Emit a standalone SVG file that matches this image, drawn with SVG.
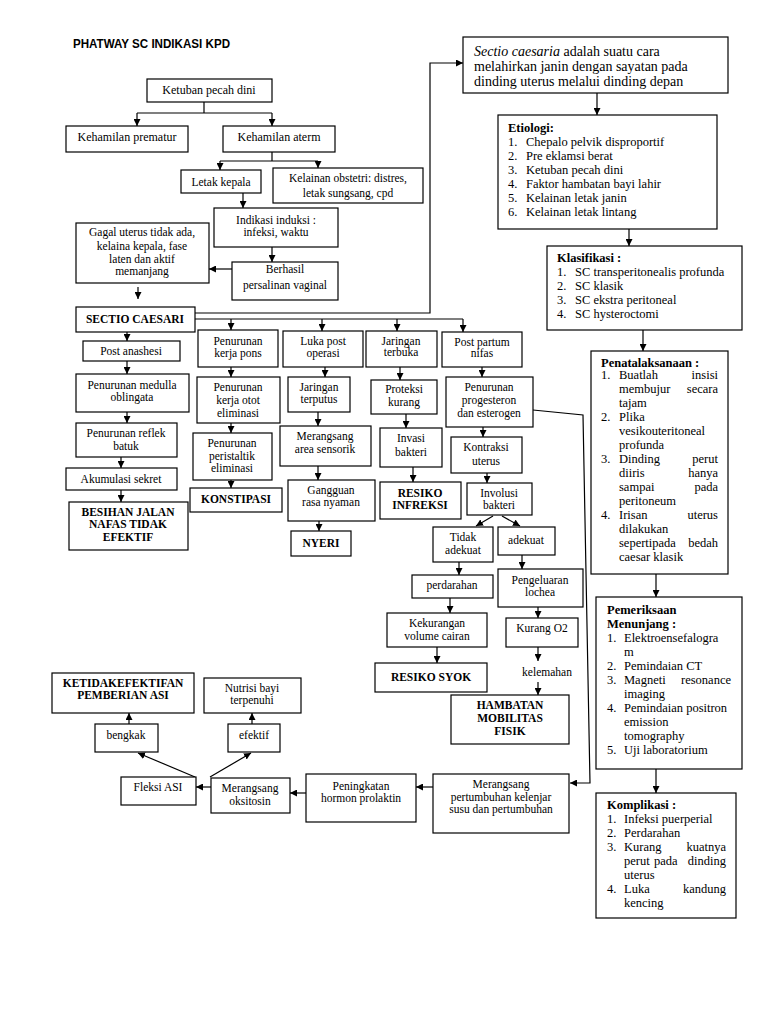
<svg xmlns="http://www.w3.org/2000/svg" width="768" height="1024" viewBox="0 0 768 1024">
<style>
rect{fill:#fff;stroke:#000;stroke-width:1.2}
text{font-family:"Liberation Serif","Times New Roman",serif;fill:#000}
.t{font-size:11.5px;text-anchor:middle}
.m{font-size:12px;text-anchor:middle}
.b{font-size:11.5px;text-anchor:middle;font-weight:bold}
.l{font-size:12.5px}
.e{font-size:12.5px;text-anchor:end}
.h{font-size:12.5px;font-weight:bold}
.c path{fill:none;stroke:#000;stroke-width:1.2}
</style>
<defs>
<marker id="a" viewBox="0 0 8 8" refX="8" refY="4" markerWidth="7" markerHeight="7" orient="auto" markerUnits="userSpaceOnUse"><path d="M0,0 L8,4 L0,8 z" fill="#000"/></marker>
</defs>
<rect x="0" y="0" width="768" height="1024" style="fill:#fff;stroke:none"/>
<text x="73" y="48" style="font-family:'Liberation Sans',Arial,sans-serif;font-weight:bold;font-size:12px" textLength="157" lengthAdjust="spacingAndGlyphs">PHATWAY SC INDIKASI KPD</text>

<g class="c">
<path d="M204,102 V113 M137,113 H272"/>
<path d="M137,113 V126" marker-end="url(#a)"/>
<path d="M272,113 V126" marker-end="url(#a)"/>
<path d="M272,152 V161 M220,161 H318"/>
<path d="M220,161 V170" marker-end="url(#a)"/>
<path d="M318,161 V168" marker-end="url(#a)"/>
<path d="M243,193 V208" marker-end="url(#a)"/>
<path d="M272,247 V262" marker-end="url(#a)"/>
<path d="M232,269 H209" marker-end="url(#a)"/>
<path d="M138,287 V299" marker-end="url(#a)"/>
<path d="M195,313 H430 V63 H463" marker-end="url(#a)"/>
<path d="M195,319 H463"/>
<path d="M231,319 V330" marker-end="url(#a)"/>
<path d="M322,319 V331" marker-end="url(#a)"/>
<path d="M397,319 V331" marker-end="url(#a)"/>
<path d="M463,319 V332" marker-end="url(#a)"/>
<path d="M597,93 V115" marker-end="url(#a)"/>
<path d="M629,229 V246" marker-end="url(#a)"/>
<path d="M643,330 V351" marker-end="url(#a)"/>
<path d="M656,574 V597" marker-end="url(#a)"/>
<path d="M656,769 V793" marker-end="url(#a)"/>
<path d="M127,332 V341" marker-end="url(#a)"/>
<path d="M127,361 V374" marker-end="url(#a)"/>
<path d="M127,412 V423" marker-end="url(#a)"/>
<path d="M121,457 V468" marker-end="url(#a)"/>
<path d="M121,490 V502" marker-end="url(#a)"/>
<path d="M231,367 V377" marker-end="url(#a)"/>
<path d="M231,423 V433" marker-end="url(#a)"/>
<path d="M231,480 V488" marker-end="url(#a)"/>
<path d="M325,367 V377" marker-end="url(#a)"/>
<path d="M318,412 V426" marker-end="url(#a)"/>
<path d="M318,466 V480" marker-end="url(#a)"/>
<path d="M319,521 V531" marker-end="url(#a)"/>
<path d="M400,367 V380" marker-end="url(#a)"/>
<path d="M406,414 V428" marker-end="url(#a)"/>
<path d="M413,467 V482" marker-end="url(#a)"/>
<path d="M482,367 V377" marker-end="url(#a)"/>
<path d="M483,427 V437" marker-end="url(#a)"/>
<path d="M487,473 V483" marker-end="url(#a)"/>
<path d="M493,516 L476,526" marker-end="url(#a)"/>
<path d="M502,516 L520,526" marker-end="url(#a)"/>
<path d="M459,562 V575" marker-end="url(#a)"/>
<path d="M450,598 V613" marker-end="url(#a)"/>
<path d="M437,647 V663" marker-end="url(#a)"/>
<path d="M522,555 V569" marker-end="url(#a)"/>
<path d="M538,607 V618" marker-end="url(#a)"/>
<path d="M538,647 V661" marker-end="url(#a)"/>
<path d="M538,682 V695" marker-end="url(#a)"/>
<path d="M533,410 L583,415 L590,783 H570" marker-end="url(#a)"/>
<path d="M433,787 H416" marker-end="url(#a)"/>
<path d="M306,793 H290" marker-end="url(#a)"/>
<path d="M211,787 H196" marker-end="url(#a)"/>
<path d="M195,777 L138,753" marker-end="url(#a)"/>
<path d="M210,777 L251,753" marker-end="url(#a)"/>
<path d="M129,724 V713" marker-end="url(#a)"/>
<path d="M252,724 V713" marker-end="url(#a)"/>
</g>

<g id="ketuban"><rect x="147" y="79" width="125" height="23"/><text class="m" x="209" y="94">Ketuban pecah dini</text></g>
<g id="prematur"><rect x="66" y="126" width="122" height="26"/><text class="m" x="127" y="141">Kehamilan prematur</text></g>
<g id="aterm"><rect x="223" y="126" width="112" height="26"/><text class="m" x="279" y="141">Kehamilan aterm</text></g>
<g id="letak"><rect x="181" y="170" width="80" height="23"/><text class="t" x="221" y="186">Letak kepala</text></g>
<g id="kelainan"><rect x="273" y="168" width="150" height="35"/><text class="t" x="348" y="182">Kelainan obstetri: distres,</text><text class="t" x="348" y="197">letak sungsang, cpd</text></g>
<g id="indikasi"><rect x="214" y="208" width="124" height="39"/><text class="t" x="276" y="224">Indikasi induksi :</text><text class="t" x="276" y="236">infeksi, waktu</text></g>
<g id="berhasil"><rect x="232" y="262" width="106" height="38"/><text class="t" x="285" y="273">Berhasil</text><text class="t" x="285" y="289">persalinan vaginal</text></g>
<g id="gagal"><rect x="76" y="223" width="133" height="60"/><text class="t" x="142" y="236">Gagal uterus tidak ada,</text><text class="t" x="142" y="250">kelaina kepala, fase</text><text class="t" x="142" y="263">laten dan aktif</text><text class="t" x="142" y="275">memanjang</text></g>
<g id="sectio"><rect x="76" y="307" width="119" height="25"/><text class="b" x="135" y="323">SECTIO CAESARI</text></g>

<g id="scdef"><rect x="463" y="37" width="265" height="56"/>
<text x="474" y="56" style="font-size:14px"><tspan font-style="italic">Sectio caesaria</tspan> adalah suatu cara</text>
<text x="474" y="71" style="font-size:14px">melahirkan janin dengan sayatan pada</text>
<text x="474" y="86" style="font-size:14px">dinding uterus melalui dinding depan</text></g>

<g id="etiologi"><rect x="498" y="115" width="219" height="114"/>
<text class="h" x="508" y="132">Etiologi:</text>
<text class="l" x="508" y="145.5">1.</text><text class="l" x="526" y="145.5">Chepalo pelvik disproportif</text>
<text class="l" x="508" y="159.5">2.</text><text class="l" x="526" y="159.5">Pre eklamsi berat</text>
<text class="l" x="508" y="173.5">3.</text><text class="l" x="526" y="173.5">Ketuban pecah dini</text>
<text class="l" x="508" y="187.5">4.</text><text class="l" x="526" y="187.5">Faktor hambatan bayi lahir</text>
<text class="l" x="508" y="201.5">5.</text><text class="l" x="526" y="201.5">Kelainan letak janin</text>
<text class="l" x="508" y="215.5">6.</text><text class="l" x="526" y="215.5">Kelainan letak lintang</text></g>

<g id="klasifikasi"><rect x="547" y="246" width="195" height="84"/>
<text class="h" x="557" y="262">Klasifikasi :</text>
<text class="l" x="557" y="275.5">1.</text><text class="l" x="575" y="275.5">SC transperitonealis profunda</text>
<text class="l" x="557" y="289.5">2.</text><text class="l" x="575" y="289.5">SC klasik</text>
<text class="l" x="557" y="303.5">3.</text><text class="l" x="575" y="303.5">SC ekstra peritoneal</text>
<text class="l" x="557" y="317.5">4.</text><text class="l" x="575" y="317.5">SC hysteroctomi</text></g>

<g id="penatalaksanaan"><rect x="591" y="351" width="137" height="223"/>
<text class="h" x="601" y="367">Penatalaksanaan :</text>
<text class="l" x="601" y="379">1.</text><text class="l" x="619" y="379">Buatlah</text><text class="e" x="718" y="379">insisi</text>
<text class="l" x="619" y="393">membujur</text><text class="e" x="718" y="393">secara</text>
<text class="l" x="619" y="407">tajam</text>
<text class="l" x="601" y="421">2.</text><text class="l" x="619" y="421">Plika</text>
<text class="l" x="619" y="435">vesikouteritoneal</text>
<text class="l" x="619" y="449">profunda</text>
<text class="l" x="601" y="463">3.</text><text class="l" x="619" y="463">Dinding</text><text class="e" x="718" y="463">perut</text>
<text class="l" x="619" y="477">diiris</text><text class="e" x="718" y="477">hanya</text>
<text class="l" x="619" y="491">sampai</text><text class="e" x="718" y="491">pada</text>
<text class="l" x="619" y="505">peritoneum</text>
<text class="l" x="601" y="519">4.</text><text class="l" x="619" y="519">Irisan</text><text class="e" x="718" y="519">uterus</text>
<text class="l" x="619" y="533">dilakukan</text>
<text class="l" x="619" y="547">sepertipada</text><text class="e" x="718" y="547">bedah</text>
<text class="l" x="619" y="561">caesar klasik</text></g>

<g id="pemeriksaan"><rect x="596" y="597" width="146" height="172"/>
<text class="h" x="607" y="614">Pemeriksaan</text>
<text class="h" x="607" y="628">Menunjang :</text>
<text class="l" x="607" y="642">1.</text><text class="l" x="624" y="642">Elektroensefalogra</text>
<text class="l" x="624" y="656">m</text>
<text class="l" x="607" y="670">2.</text><text class="l" x="624" y="670">Pemindaian CT</text>
<text class="l" x="607" y="684">3.</text><text class="l" x="624" y="684">Magneti</text><text class="e" x="731" y="684">resonance</text>
<text class="l" x="624" y="698">imaging</text>
<text class="l" x="607" y="712">4.</text><text class="l" x="624" y="712">Pemindaian positron</text>
<text class="l" x="624" y="726">emission</text>
<text class="l" x="624" y="740">tomography</text>
<text class="l" x="607" y="754">5.</text><text class="l" x="624" y="754">Uji laboratorium</text></g>

<g id="komplikasi"><rect x="596" y="793" width="140" height="125"/>
<text class="h" x="607" y="809">Komplikasi :</text>
<text class="l" x="607" y="823">1.</text><text class="l" x="624" y="823">Infeksi puerperial</text>
<text class="l" x="607" y="837">2.</text><text class="l" x="624" y="837">Perdarahan</text>
<text class="l" x="607" y="851">3.</text><text class="l" x="624" y="851">Kurang</text><text class="e" x="726" y="851">kuatnya</text>
<text class="l" x="624" y="865">perut</text><text class="l" x="654" y="865">pada</text><text class="e" x="726" y="865">dinding</text>
<text class="l" x="624" y="879">uterus</text>
<text class="l" x="607" y="893">4.</text><text class="l" x="624" y="893">Luka</text><text class="e" x="726" y="893">kandung</text>
<text class="l" x="624" y="907">kencing</text></g>

<g id="postanas"><rect x="83" y="341" width="97" height="20"/><text class="t" x="131" y="355">Post anashesi</text></g>
<g id="medulla"><rect x="76" y="374" width="113" height="38"/><text class="t" x="132" y="389">Penurunan medulla</text><text class="t" x="132" y="401">oblingata</text></g>
<g id="reflek"><rect x="76" y="423" width="101" height="34"/><text class="t" x="126" y="437">Penurunan reflek</text><text class="t" x="126" y="450">batuk</text></g>
<g id="akumulasi"><rect x="66" y="468" width="111" height="22"/><text class="t" x="121" y="483">Akumulasi sekret</text></g>
<g id="besihan"><rect x="69" y="502" width="119" height="48"/><text class="b" x="128" y="516">BESIHAN JALAN</text><text class="b" x="128" y="528">NAFAS TIDAK</text><text class="b" x="128" y="541">EFEKTIF</text></g>

<g id="pons"><rect x="198" y="330" width="80" height="37"/><text class="t" x="238" y="345">Penurunan</text><text class="t" x="238" y="357">kerja pons</text></g>
<g id="otot"><rect x="197" y="377" width="83" height="46"/><text class="t" x="238" y="391">Penurunan</text><text class="t" x="238" y="404">kerja otot</text><text class="t" x="238" y="417">eliminasi</text></g>
<g id="peristaltik"><rect x="193" y="433" width="79" height="47"/><text class="t" x="232" y="447">Penurunan</text><text class="t" x="232" y="460">peristaltik</text><text class="t" x="232" y="472">eliminasi</text></g>
<g id="konstipasi"><rect x="190" y="488" width="92" height="24"/><text class="b" x="236" y="503">KONSTIPASI</text></g>

<g id="luka"><rect x="283" y="331" width="80" height="36"/><text class="t" x="323" y="345">Luka post</text><text class="t" x="323" y="357">operasi</text></g>
<g id="terputus"><rect x="288" y="377" width="62" height="35"/><text class="t" x="319" y="391">Jaringan</text><text class="t" x="319" y="403">terputus</text></g>
<g id="sensorik"><rect x="280" y="426" width="91" height="40"/><text class="t" x="325" y="440">Merangsang</text><text class="t" x="325" y="453">area sensorik</text></g>
<g id="gangguan"><rect x="288" y="480" width="87" height="41"/><text class="t" x="331" y="494">Gangguan</text><text class="t" x="331" y="506">rasa nyaman</text></g>
<g id="nyeri"><rect x="291" y="531" width="60" height="25"/><text class="b" x="321" y="547">NYERI</text></g>

<g id="terbuka"><rect x="366" y="331" width="71" height="36"/><text class="t" x="401" y="345">Jaringan</text><text class="t" x="401" y="356">terbuka</text></g>
<g id="proteksi"><rect x="371" y="380" width="66" height="34"/><text class="t" x="404" y="393">Proteksi</text><text class="t" x="404" y="406">kurang</text></g>
<g id="invasi"><rect x="380" y="428" width="62" height="39"/><text class="t" x="411" y="442">Invasi</text><text class="t" x="411" y="456">bakteri</text></g>
<g id="resikoinf"><rect x="380" y="482" width="81" height="37"/><text class="b" x="420" y="497">RESIKO</text><text class="b" x="420" y="509">INFREKSI</text></g>

<g id="postpartum"><rect x="442" y="332" width="80" height="35"/><text class="t" x="482" y="346">Post partum</text><text class="t" x="482" y="357">nifas</text></g>
<g id="progesteron"><rect x="446" y="377" width="87" height="50"/><text class="t" x="489" y="391">Penurunan</text><text class="t" x="489" y="404">progesteron</text><text class="t" x="489" y="417">dan esterogen</text></g>
<g id="kontraksi"><rect x="451" y="437" width="71" height="36"/><text class="t" x="486" y="451">Kontraksi</text><text class="t" x="486" y="465">uterus</text></g>
<g id="involusi"><rect x="467" y="483" width="65" height="32"/><text class="t" x="499" y="497">Involusi</text><text class="t" x="499" y="509">bakteri</text></g>
<g id="tidak"><rect x="433" y="527" width="60" height="35"/><text class="t" x="463" y="541">Tidak</text><text class="t" x="463" y="554">adekuat</text></g>
<g id="adekuat"><rect x="498" y="527" width="57" height="28"/><text class="t" x="526" y="544">adekuat</text></g>
<g id="perdarahan"><rect x="412" y="575" width="81" height="23"/><text class="t" x="452" y="589">perdarahan</text></g>
<g id="kekurangan"><rect x="387" y="613" width="100" height="34"/><text class="t" x="437" y="627">Kekurangan</text><text class="t" x="437" y="640">volume cairan</text></g>
<g id="syok"><rect x="375" y="663" width="112" height="29"/><text class="b" x="431" y="681">RESIKO SYOK</text></g>
<g id="lochea"><rect x="498" y="569" width="85" height="38"/><text class="t" x="540" y="584">Pengeluaran</text><text class="t" x="540" y="596">lochea</text></g>
<g id="kurango2"><rect x="506" y="618" width="72" height="29"/><text class="t" x="542" y="632">Kurang O2</text></g>
<g id="kelemahan"><text class="t" x="547" y="676">kelemahan</text></g>
<g id="hambatan"><rect x="451" y="695" width="118" height="49"/><text class="b" x="510" y="709">HAMBATAN</text><text class="b" x="510" y="722">MOBILITAS</text><text class="b" x="510" y="735">FISIK</text></g>

<g id="ketidak"><rect x="52" y="673" width="142" height="40"/><text class="b" x="123" y="687">KETIDAKEFEKTIFAN</text><text class="b" x="123" y="699">PEMBERIAN ASI</text></g>
<g id="nutrisi"><rect x="204" y="678" width="97" height="35"/><text class="t" x="252" y="692">Nutrisi bayi</text><text class="t" x="252" y="704">terpenuhi</text></g>
<g id="bengkak"><rect x="95" y="724" width="63" height="28"/><text class="t" x="126" y="739">bengkak</text></g>
<g id="efektif"><rect x="228" y="724" width="52" height="28"/><text class="t" x="254" y="739">efektif</text></g>
<g id="fleksi"><rect x="121" y="777" width="75" height="28"/><text class="t" x="158" y="791">Fleksi ASI</text></g>
<g id="oksitosin"><rect x="211" y="778" width="79" height="35"/><text class="t" x="250" y="792">Merangsang</text><text class="t" x="250" y="805">oksitosin</text></g>
<g id="peningkatan"><rect x="306" y="774" width="110" height="48"/><text class="t" x="361" y="790">Peningkatan</text><text class="t" x="361" y="802">hormon prolaktin</text></g>
<g id="mpertumbuhan"><rect x="433" y="774" width="136" height="59"/><text class="t" x="501" y="788">Merangsang</text><text class="t" x="501" y="801">pertumbuhan kelenjar</text><text class="t" x="501" y="813">susu dan pertumbuhan</text></g>
</svg>
